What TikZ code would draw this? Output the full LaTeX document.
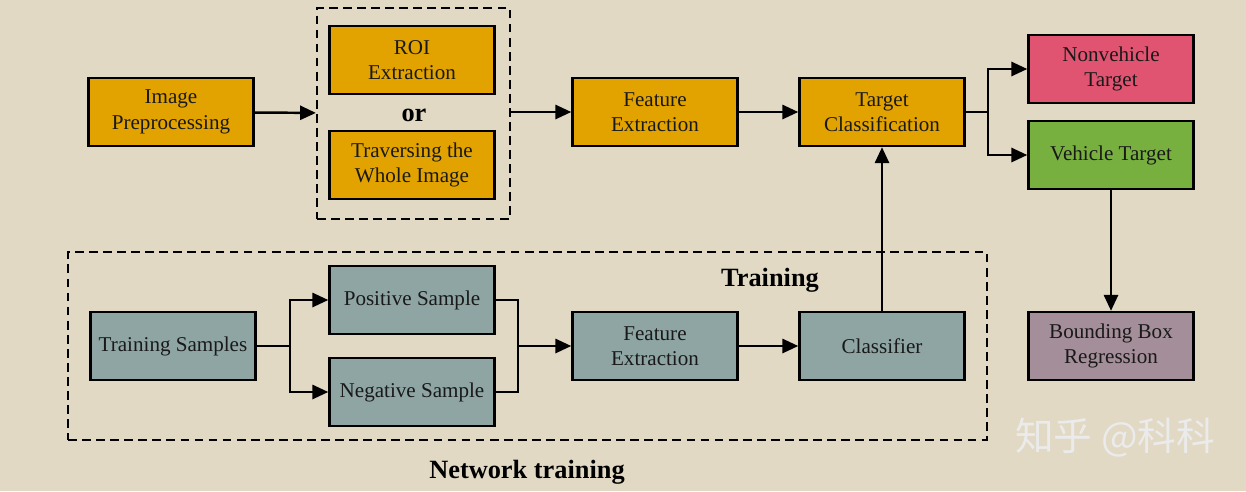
\documentclass[tikz,border=0pt]{standalone}
\usepackage{fontspec}
\setmainfont{Liberation Serif}
\newfontfamily\cjk{Noto Sans CJK SC}
\usetikzlibrary{arrows.meta}
\definecolor{bg}{HTML}{E1D9C4}
\definecolor{org}{HTML}{E2A300}
\definecolor{gry}{HTML}{8EA5A4}
\definecolor{pnk}{HTML}{E05472}
\definecolor{grn}{HTML}{78B040}
\definecolor{mauve}{HTML}{A48E99}
\begin{document}
\begin{tikzpicture}[x=0.02cm,y=-0.02cm,
  box/.style={draw=black,line width=1.4pt,minimum width=3.3cm,minimum height=1.36cm,inner xsep=1pt,align=center,font=\fontsize{12}{14.5}\selectfont,text=black!90},
  ob/.style={box,fill=org}, gb/.style={box,fill=gry},
  dbox/.style={draw=black,line width=1.3pt,dash pattern=on 5pt off 3pt,inner sep=0pt},
  arr/.style={line width=1.4pt,-{Triangle[length=9pt,width=8pt]}},
  ln/.style={line width=1.4pt},
  lab/.style={font=\bfseries\fontsize{15}{17}\selectfont}]
\fill[bg] (0,0) rectangle (1246,491);
\node[ob] (ip) at (171,112) {Image\\Preprocessing};
\node[ob] (roi) at (412,60) {ROI\\Extraction};
\node[lab] (or) at (414,115) {or};
\node[ob] (trav) at (412,165) {Traversing the\\Whole Image};
\node[dbox,minimum width=3.86cm,minimum height=4.22cm] (dsel) at (413.5,113.5) {};
\node[ob] (fe) at (655,112) {Feature\\Extraction};
\node[ob] (tc) at (882,112) {Target\\Classification};
\node[box,fill=pnk] (nv) at (1111,69) {Nonvehicle\\Target};
\node[box,fill=grn] (vt) at (1111,155) {Vehicle Target};
\node[box,fill=mauve] (bb) at (1111,346) {Bounding Box\\Regression};
\node[dbox,minimum width=18.38cm,minimum height=3.76cm] (dtr) at (527.5,346) {};
\node[lab] (trl) at (770,280) {Training};
\node[gb] (ts) at (173,346) {Training Samples};
\node[gb] (pos) at (412,300) {Positive Sample};
\node[gb] (neg) at (412,392) {Negative Sample};
\node[gb] (fe2) at (655,346) {Feature\\Extraction};
\node[gb] (cl) at (882,346) {Classifier};
\node[lab] (nt) at (527,472) {Network training};
\node[font=\cjk\fontsize{22}{24}\selectfont,text=white!92!black] (wm) at (1115,438) {知乎 @科科};
\draw[arr] (ip) -- (dsel);
\draw[arr] (dsel.east |- fe) -- (fe);
\draw[arr] (fe) -- (tc);
\coordinate (b1) at (988,112);
\draw[ln] (tc) -- (b1);
\draw[arr] (b1) |- (nv);
\draw[arr] (b1) |- (vt);
\draw[arr] (vt) -- (bb);
\draw[arr] (cl) -- (tc);
\coordinate (b2) at (290,346);
\draw[ln] (ts) -- (b2);
\draw[arr] (b2) |- (pos);
\draw[arr] (b2) |- (neg);
\coordinate (b3) at (518,346);
\draw[ln] (pos) -| (b3);
\draw[ln] (neg) -| (b3);
\draw[arr] (b3) -- (fe2);
\draw[arr] (fe2) -- (cl);
\end{tikzpicture}
\end{document}
